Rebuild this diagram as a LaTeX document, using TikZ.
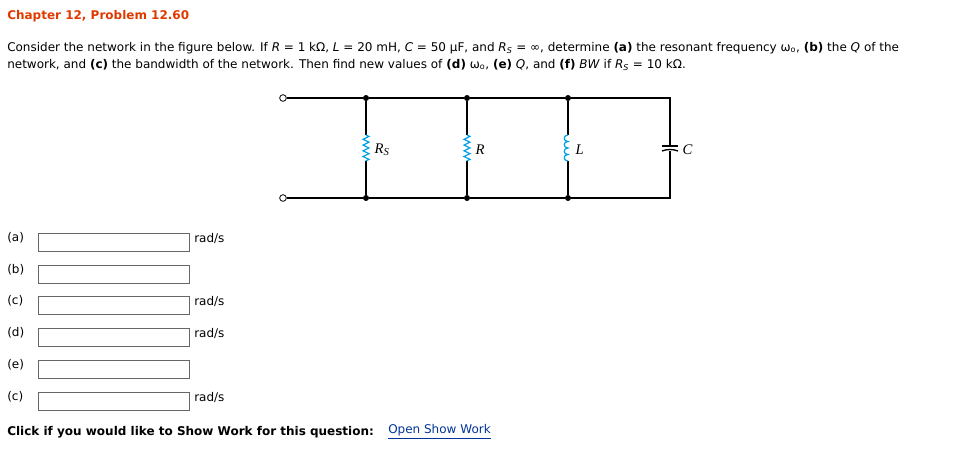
\documentclass[tikz,border=0pt]{standalone}
\usepackage{fontspec}
\setmainfont{DejaVu Sans}
\newfontfamily\ser{Liberation Serif}
\usetikzlibrary{decorations.pathmorphing}
\definecolor{titlered}{RGB}{224,58,0}
\definecolor{linkblue}{RGB}{0,51,153}
\definecolor{cblue}{RGB}{0,160,230}
\newcommand{\subS}{\textsubscript{\textit{S}}}
\newcommand{\subo}{\textsubscript{o}}
\tikzset{
 txt/.style={anchor=west,inner sep=0pt,font=\fontsize{9}{11}\selectfont},
 ansbox/.style={draw=black!60,line width=0.6pt,minimum width=113pt,minimum height=13.5pt,inner sep=0pt,anchor=west},
 wire/.style={line width=1pt},
 dot/.style={circle,fill=black,inner sep=0pt,minimum size=4.5pt},
 term/.style={circle,draw,fill=white,inner sep=0pt,minimum size=5pt,line width=0.6pt},
 clab/.style={anchor=west,inner sep=1pt,font=\ser\itshape\fontsize{11}{12}\selectfont},
 comp/.style={cblue,line width=0.9pt},
}
\begin{document}
\begin{tikzpicture}[x=0.75pt,y=-0.75pt]
\useasboundingbox (0,0) rectangle (958,458);
\node[txt,text=titlered,font=\bfseries\fontsize{9}{11}\selectfont] (title) at (7,16) {Chapter 12, Problem 12.60};
\node[txt] (p1) at (7,48) {Consider the network in the figure below. If \textit{R} = 1 kΩ, \textit{L} = 20 mH, \textit{C} = 50 μF, and \textit{R}\subS{} = ∞, determine \textbf{(a)} the resonant frequency ω\subo, \textbf{(b)} the \textit{Q} of the};
\node[txt] (p2) at (7,65) {network, and \textbf{(c)} the bandwidth of the network. Then find new values of \textbf{(d)} ω\subo, \textbf{(e)} \textit{Q}, and \textbf{(f)} \textit{BW} if \textit{R}\subS{} = 10 kΩ.};
% circuit
\node[term] (t1) at (283,98) {};
\node[term] (t2) at (283,198) {};
\foreach \n/\x in {a/366,b/467,c/568}{
 \node[dot] (\n t) at (\x,98) {};
 \node[dot] (\n b) at (\x,198) {};
}
\coordinate (dt) at (670,98); \coordinate (db) at (670,198);
\draw[wire] (t1) -- (at) -- (bt) -- (ct) -- (dt) -- (db) -- (cb) -- (bb) -- (ab) -- (t2);
\coordinate (cc1) at (670,144); \coordinate (cc2) at (670,152);
\draw[wire] (at) -- (366,135); \draw[wire] (366,161) -- (ab);
\draw[comp,decoration={zigzag,segment length=4.3pt,amplitude=2.2pt},decorate] (366,135) -- (366,161);
\draw[wire] (bt) -- (467,135); \draw[wire] (467,161) -- (bb);
\draw[comp,decoration={zigzag,segment length=4.3pt,amplitude=2.2pt},decorate] (467,135) -- (467,161);
\draw[wire] (ct) -- (568,135); \draw[wire] (568,161) -- (cb);
\draw[comp] (568,135)
 .. controls (563,135) and (563,141.5) .. (568,141.5)
 .. controls (563,141.5) and (563,148) .. (568,148)
 .. controls (563,148) and (563,154.5) .. (568,154.5)
 .. controls (563,154.5) and (563,161) .. (568,161);
\draw[wire] (dt) -- (cc1); \draw[wire] (cc2) -- (db);
\fill[white] (662,145) rectangle (678,151);
\draw[line width=1pt] (662,146) -- (678,146);
\draw[line width=1pt] (662,151) .. controls (667,149) and (673,149) .. (678,151);
\node[clab] (lrs) at (373,150) {R\textsubscript{\fontsize{8}{9}\selectfont S}};
\node[clab] (lr) at (474,150) {R};
\node[clab] (ll) at (574,150) {L};
\node[clab] (lc) at (681,150) {C};
% answers
\foreach \n/\l/\y/\u in {a/(a)/238/rad\slash s,b/(b)/270/,c/(c)/301/rad\slash s,d/(d)/333/rad\slash s,e/(e)/365/,f/(c)/397/rad\slash s}{
 \node[txt] (l\n) at (7,\y) {\l};
 \node[ansbox] (b\n) at (38,\y+4) {};
 \node[txt] (u\n) at (194,\y) {\u};
}
\node[txt,font=\bfseries\fontsize{9}{11}\selectfont] (sw) at (7,432) {Click if you would like to Show Work for this question:};
\node[txt,text=linkblue] (lk) at (388,432) {\underline{Open Show Work}};
\end{tikzpicture}
\end{document}
